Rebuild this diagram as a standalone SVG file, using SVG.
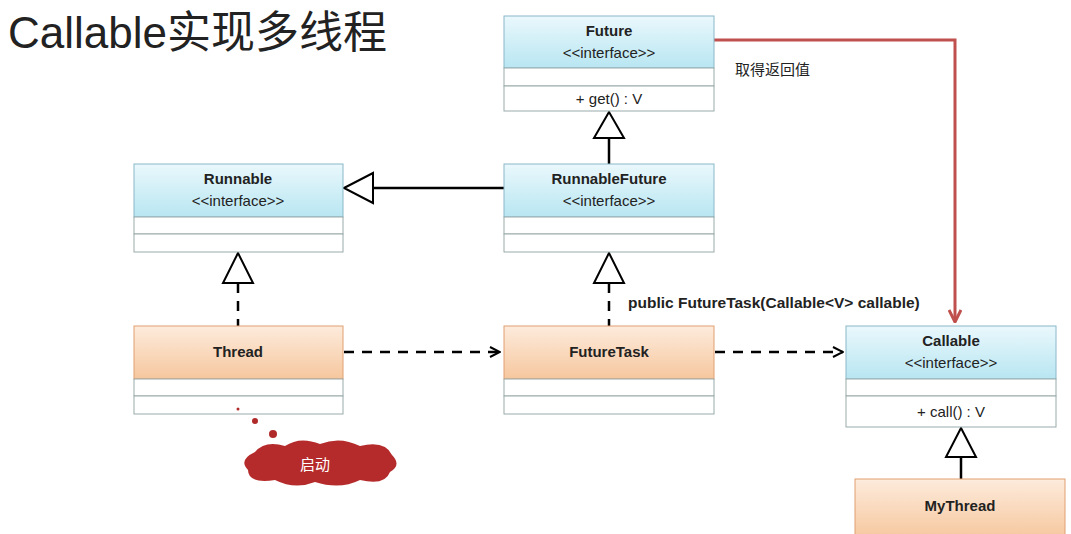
<svg xmlns="http://www.w3.org/2000/svg" width="1071" height="534" viewBox="0 0 1071 534">
<defs>
<linearGradient id="blue" x1="0" y1="0" x2="0" y2="1"><stop offset="0" stop-color="#eaf8fc"/><stop offset="1" stop-color="#b8e6f2"/></linearGradient>
<linearGradient id="orange" x1="0" y1="0" x2="0" y2="1"><stop offset="0" stop-color="#fdebdc"/><stop offset="1" stop-color="#f6c79e"/></linearGradient>
<marker id="open" viewBox="0 0 12 12" refX="11" refY="6" markerWidth="12" markerHeight="12" markerUnits="userSpaceOnUse" orient="auto"><path d="M1,1 L11,6 L1,11" fill="none" stroke="#000" stroke-width="2"/></marker>
<marker id="red" viewBox="0 0 14 14" refX="13" refY="7" markerWidth="14" markerHeight="14" markerUnits="userSpaceOnUse" orient="auto"><path d="M1,1 L13,7 L1,13" fill="none" stroke="#c0504d" stroke-width="3"/></marker>
</defs>
<style>
.t{font-family:"Liberation Sans","Noto Sans CJK SC",sans-serif;font-size:15px;text-anchor:middle;fill:#222}
.b{font-weight:bold}
.box{stroke:#9aa;stroke-width:1}
.bl{fill:url(#blue);stroke:#8ab8c8}
.or{fill:url(#orange);stroke:#e0a070}
.row{fill:#fff}
.tri{fill:#fff;stroke:#000;stroke-width:2}
.ln{stroke:#000;stroke-width:2.5;fill:none}
.dash{stroke-dasharray:10,8}
</style>
<rect width="1071" height="534" fill="#fff"/>
<text x="8" y="48" style="font-family:'Liberation Sans','Noto Sans CJK SC',sans-serif;font-size:44px" fill="#222">Callable实现多线程</text>

<g id="connectors">
<line class="ln" x1="609" y1="138" x2="609" y2="164"/>
<polygon class="tri" points="609,112 594,138 624,138"/>
<line class="ln" x1="373" y1="188" x2="504" y2="188"/>
<polygon class="tri" points="344,188 373,173 373,203"/>
<line class="ln dash" x1="238" y1="283" x2="238" y2="326"/>
<polygon class="tri" points="238,253 223,283 253,283"/>
<line class="ln dash" x1="609" y1="283" x2="609" y2="326"/>
<polygon class="tri" points="609,253 594,283 624,283"/>
<line class="ln" x1="961" y1="457" x2="961" y2="479"/>
<polygon class="tri" points="961,428 946,457 976,457"/>
<line class="ln dash" x1="344" y1="352" x2="500" y2="352" marker-end="url(#open)"/>
<line class="ln dash" x1="715" y1="352" x2="843" y2="352" marker-end="url(#open)"/>
<polyline points="714,40 955,40 955,322" fill="none" stroke="#c0504d" stroke-width="3" marker-end="url(#red)"/>
<text class="t b" x="628" y="308" style="text-anchor:start;font-size:15.5px">public FutureTask(Callable&lt;V&gt; callable)</text>
<text class="t" x="735" y="75" style="text-anchor:start">取得返回值</text>
</g>

<g id="future">
<rect class="bl" x="504" y="16" width="210" height="52"/>
<rect class="row box" x="504" y="68" width="210" height="18"/>
<rect class="row box" x="504" y="86" width="210" height="25"/>
<text class="t b" x="609" y="36">Future</text>
<text class="t" x="609" y="58">&lt;&lt;interface&gt;&gt;</text>
<text class="t" x="609" y="104">+ get() : V</text>
</g>
<g id="runnable">
<rect class="bl" x="134" y="164" width="209" height="53"/>
<rect class="row box" x="134" y="217" width="209" height="17"/>
<rect class="row box" x="134" y="234" width="209" height="18"/>
<text class="t b" x="238" y="184">Runnable</text>
<text class="t" x="238" y="206">&lt;&lt;interface&gt;&gt;</text>
</g>
<g id="runnablefuture">
<rect class="bl" x="504" y="164" width="210" height="53"/>
<rect class="row box" x="504" y="217" width="210" height="17"/>
<rect class="row box" x="504" y="234" width="210" height="18"/>
<text class="t b" x="609" y="184">RunnableFuture</text>
<text class="t" x="609" y="206">&lt;&lt;interface&gt;&gt;</text>
</g>
<g id="thread">
<rect class="or" x="134" y="326" width="209" height="53"/>
<rect class="row box" x="134" y="379" width="209" height="17" stroke="#e0a070"/>
<rect class="row box" x="134" y="396" width="209" height="18" stroke="#e0a070"/>
<text class="t b" x="238" y="357">Thread</text>
</g>
<g id="futuretask">
<rect class="or" x="504" y="326" width="210" height="53"/>
<rect class="row box" x="504" y="379" width="210" height="17" stroke="#e0a070"/>
<rect class="row box" x="504" y="396" width="210" height="18" stroke="#e0a070"/>
<text class="t b" x="609" y="357">FutureTask</text>
</g>
<g id="callable">
<rect class="bl" x="846" y="326" width="210" height="53"/>
<rect class="row box" x="846" y="379" width="210" height="17"/>
<rect class="row box" x="846" y="396" width="210" height="31"/>
<text class="t b" x="951" y="346">Callable</text>
<text class="t" x="951" y="368">&lt;&lt;interface&gt;&gt;</text>
<text class="t" x="951" y="417">+ call() : V</text>
</g>
<g id="mythread">
<rect class="or" x="855" y="479" width="210" height="60"/>
<text class="t b" x="960" y="511">MyThread</text>
</g>
<g id="start">
<circle cx="238" cy="409" r="1.5" fill="#b02a2a"/>
<circle cx="255" cy="421" r="3" fill="#b02a2a"/>
<circle cx="273" cy="434" r="4" fill="#b02a2a"/>
<path d="M255,452 Q265,440 285,446 Q300,436 320,444 Q340,436 360,446 Q385,440 392,455 Q402,465 390,472 Q385,486 360,480 Q340,490 315,482 Q295,490 275,480 Q248,484 248,470 Q238,460 255,452Z" fill="#b52b2b"/>
<text class="t" x="315" y="470" style="fill:#fff">启动</text>
</g>
</svg>
